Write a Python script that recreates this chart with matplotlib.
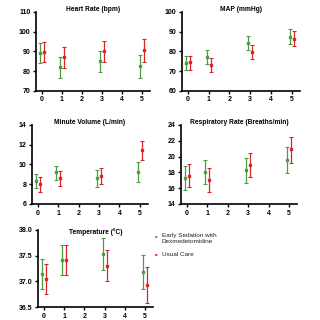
import matplotlib
matplotlib.use("Agg")
import matplotlib.pyplot as plt
import numpy as np

plt.rcParams['font.family'] = ['Liberation Sans', 'DejaVu Sans']

days = [0, 1, 3, 5]
xticks = [0, 1, 2, 3, 4, 5]
series_names = ["Early Sedation with\nDexmedetomidine", "Usual Care"]

hr_dex = [89.2, 81.9, 85.1, 82.7]
hr_dex_lo = [83.9, 76.6, 79.7, 76.6]
hr_dex_hi = [94.4, 87.1, 90.3, 88.3]
hr_uc = [89.7, 86.9, 90.0, 90.5]
hr_uc_lo = [84.6, 81.5, 84.6, 84.6]
hr_uc_hi = [94.9, 92.0, 95.3, 96.3]

map_dex = [74.0, 76.9, 84.3, 87.5]
map_dex_lo = [70.4, 73.5, 80.7, 83.9]
map_dex_hi = [77.4, 80.5, 87.9, 91.1]
map_uc = [74.7, 73.2, 79.7, 86.5]
map_uc_lo = [70.8, 69.6, 76.1, 82.5]
map_uc_hi = [77.8, 76.6, 83.1, 90.4]

mv_dex = [8.37, 9.19, 8.64, 9.25]
mv_dex_lo = [7.63, 8.44, 7.76, 8.27]
mv_dex_hi = [9.08, 9.86, 9.49, 10.27]
mv_uc = [8.0, 8.61, 8.85, 11.42]
mv_uc_lo = [7.25, 7.86, 8.0, 10.44]
mv_uc_hi = [8.75, 9.29, 9.66, 12.34]

rr_dex = [17.26, 18.07, 18.28, 19.55]
rr_dex_lo = [15.78, 16.54, 16.63, 17.86]
rr_dex_hi = [18.75, 19.55, 19.8, 21.2]
rr_uc = [17.56, 17.0, 18.9, 20.9]
rr_uc_lo = [16.12, 15.5, 17.4, 19.15]
rr_uc_hi = [19.0, 18.5, 20.4, 22.5]

t_dex = [37.15, 37.41, 37.54, 37.18]
t_dex_lo = [36.86, 37.12, 37.23, 36.85]
t_dex_hi = [37.43, 37.70, 37.84, 37.51]
t_uc = [37.05, 37.41, 37.30, 36.93]
t_uc_lo = [36.75, 37.12, 37.00, 36.58]
t_uc_hi = [37.33, 37.70, 37.61, 37.28]

GREEN = '#4a9e3f'
RED = '#d9262b'

fig = plt.figure(figsize=(3.2, 3.2), dpi=100)

panels = [
    dict(rect=[0.1125, 0.716, 0.356, 0.247], title="Heart Rate (bpm)", ylim=(70, 110), yt=[70, 80, 90, 100, 110],
         d=(hr_dex, hr_dex_lo, hr_dex_hi), u=(hr_uc, hr_uc_lo, hr_uc_hi), fmt="{:.0f}", ty=1.03),
    dict(rect=[0.569, 0.716, 0.369, 0.247], title="MAP (mmHg)", ylim=(60, 100), yt=[60, 70, 80, 90, 100],
         d=(map_dex, map_dex_lo, map_dex_hi), u=(map_uc, map_uc_lo, map_uc_hi), fmt="{:.0f}", ty=1.03),
    dict(rect=[0.10, 0.3625, 0.3625, 0.247], title="Minute Volume (L/min)", ylim=(6, 14), yt=[6, 8, 10, 12, 14],
         d=(mv_dex, mv_dex_lo, mv_dex_hi), u=(mv_uc, mv_uc_lo, mv_uc_hi), fmt="{:.0f}", ty=1.03),
    dict(rect=[0.566, 0.3625, 0.3625, 0.247], title="Respiratory Rate (Breaths/min)", ylim=(14, 24), yt=[14, 16, 18, 20, 22, 24],
         d=(rr_dex, rr_dex_lo, rr_dex_hi), u=(rr_uc, rr_uc_lo, rr_uc_hi), fmt="{:.0f}", ty=1.03),
    dict(rect=[0.119, 0.04, 0.36, 0.242], title="Temperature (°C)", ylim=(36.5, 38.0), yt=[36.5, 37.0, 37.5, 38.0],
         d=(t_dex, t_dex_lo, t_dex_hi), u=(t_uc, t_uc_lo, t_uc_hi), fmt="{:.1f}", ty=0.97),
]

off = 0.1
for p in panels:
    ax = fig.add_axes(p['rect'])
    for (vals, lo, hi), dx, c in [(p['d'], -off, GREEN), (p['u'], off, RED)]:
        v = np.array(vals); l = np.array(lo); h = np.array(hi)
        ax.errorbar(np.array(days) + dx, v, yerr=[v - l, h - v], fmt='s', color=c, ms=2,
                    elinewidth=0.9, capsize=1.6, capthick=0.8)
    ax.set_xlim(-0.28, 5.4)
    ax.set_ylim(*p['ylim'])
    ax.set_yticks(p['yt'])
    ax.set_yticklabels([p['fmt'].format(t) for t in p['yt']])
    ax.set_xticks(xticks)
    for s in ['top', 'right']:
        ax.spines[s].set_visible(False)
    for s in ['left', 'bottom']:
        ax.spines[s].set_linewidth(1.2)
    ax.tick_params(labelsize=5, width=1, length=2.5, pad=1.5)
    for lab in ax.get_xticklabels() + ax.get_yticklabels():
        lab.set_fontweight('bold')
    ax.text(0.5, p['ty'], p['title'], transform=ax.transAxes, ha='center', va='center',
            fontsize=4.8, fontweight='bold')

# legend
fig.text(0.488, 1 - 236 / 320, "■", color=GREEN, fontsize=3, ha='center', va='center')
fig.text(0.488, 1 - 254 / 320, "■", color=RED, fontsize=3, ha='center', va='center')
fig.text(0.505, 1 - 232.5 / 320, series_names[0], fontsize=4.6, va='top', linespacing=1.35, color='#222222')
fig.text(0.505, 1 - 254 / 320, series_names[1], fontsize=4.6, va='center', color='#222222')

fig.savefig("out.png", dpi=100)
